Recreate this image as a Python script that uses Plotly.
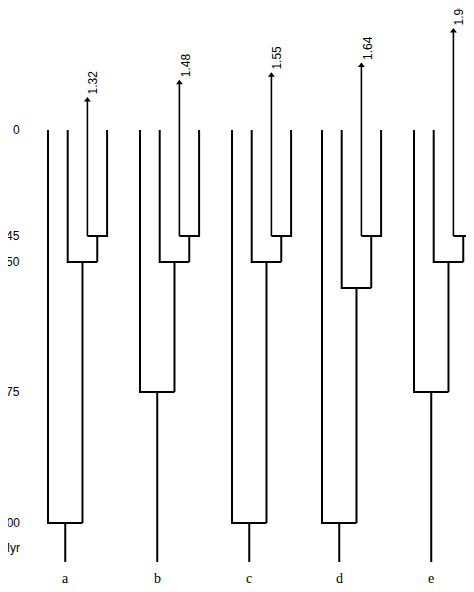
import numpy as np
import plotly.graph_objects as go

trees = ["a", "b", "c", "d", "e"]
inner_node_myr = [45, 45, 45, 45, 45]
mid_node_myr = [50, 50, 50, 55, 50]
root_node_myr = [100, 75, 100, 100, 75]
rate_values = [1.32, 1.48, 1.55, 1.64, 1.96]
tick_myr = [0, 45, 50, 75, 100]
tick_labels = ["0", "45", "50", "75", "100"]

# drawing scale (schematic, non-linear time axis as in the original)
tick_pos = [130, 236, 262, 392, 523]
stem_bottom = 562
tree_x0 = [48, 140, 232, 322, 414]
tip_gap = 19.7
page_offset = 8  # browser body margin

def ypos(m):
    return float(np.interp(m, tick_myr, tick_pos))

def arrow_top(v):
    return 99 - 107.8 * (v - 1.32)

fig = go.Figure()
xs, ys = [], []
ax, ay = [], []
for i, t in enumerate(trees):
    x1 = tree_x0[i]
    x2, x3, x4 = x1 + tip_gap, x1 + 2 * tip_gap, x1 + 3 * tip_gap
    yi, ym, yr = ypos(inner_node_myr[i]), ypos(mid_node_myr[i]), ypos(root_node_myr[i])
    y0 = ypos(0)
    xi = (x3 + x4) / 2
    xm = (x2 + xi) / 2
    xr = (x1 + xm) / 2
    xs += [x4, x4, x3, None]; ys += [y0, yi, yi, None]
    xs += [xi, xi, None]; ys += [yi, ym, None]
    xs += [x2, x2, xm, xi, None]; ys += [y0, ym, ym, ym, None]
    xs += [xm, xm, None]; ys += [ym, yr, None]
    xs += [x1, x1, xr, xm, None]; ys += [y0, yr, yr, yr, None]
    xs += [xr, xr, None]; ys += [yr, stem_bottom, None]
    ax += [x3, x3, None]; ay += [yi, arrow_top(rate_values[i]), None]
    fig.add_trace(go.Scatter(x=[x3], y=[arrow_top(rate_values[i]) + 1], mode="markers",
                             marker=dict(symbol="triangle-up", size=6, color="black"),
                             hoverinfo="skip", showlegend=False))
    fig.add_annotation(x=x3 + 6, y=arrow_top(rate_values[i]) - 3, text=f"{rate_values[i]:.2f}",
                       textangle=-90, showarrow=False, yanchor="bottom", xanchor="center",
                       font=dict(family="Liberation Sans", size=12, color="black"))
    fig.add_annotation(x=xr, y=578, text=t, showarrow=False,
                       font=dict(family="Liberation Serif", size=14, color="black"))

fig.add_trace(go.Scatter(x=xs, y=ys, mode="lines", line=dict(color="black", width=2),
                         hoverinfo="skip", showlegend=False))
fig.add_trace(go.Scatter(x=ax, y=ay, mode="lines", line=dict(color="black", width=1.6),
                         hoverinfo="skip", showlegend=False))

for m, lab in zip(tick_myr, tick_labels):
    fig.add_annotation(x=22, y=ypos(m), text=lab, showarrow=False, xanchor="right",
                       font=dict(family="Liberation Sans", size=12, color="black"))
fig.add_annotation(x=22, y=548, text="Myr", showarrow=False, xanchor="right",
                   font=dict(family="Liberation Sans", size=12, color="black"))

fig.update_layout(width=474 - page_offset, height=592 - page_offset,
                  margin=dict(l=0, r=0, t=0, b=0),
                  plot_bgcolor="white", paper_bgcolor="white",
                  xaxis=dict(range=[page_offset, 474], visible=False, fixedrange=True),
                  yaxis=dict(range=[592, page_offset], visible=False, fixedrange=True))
fig.write_html("out.html")
